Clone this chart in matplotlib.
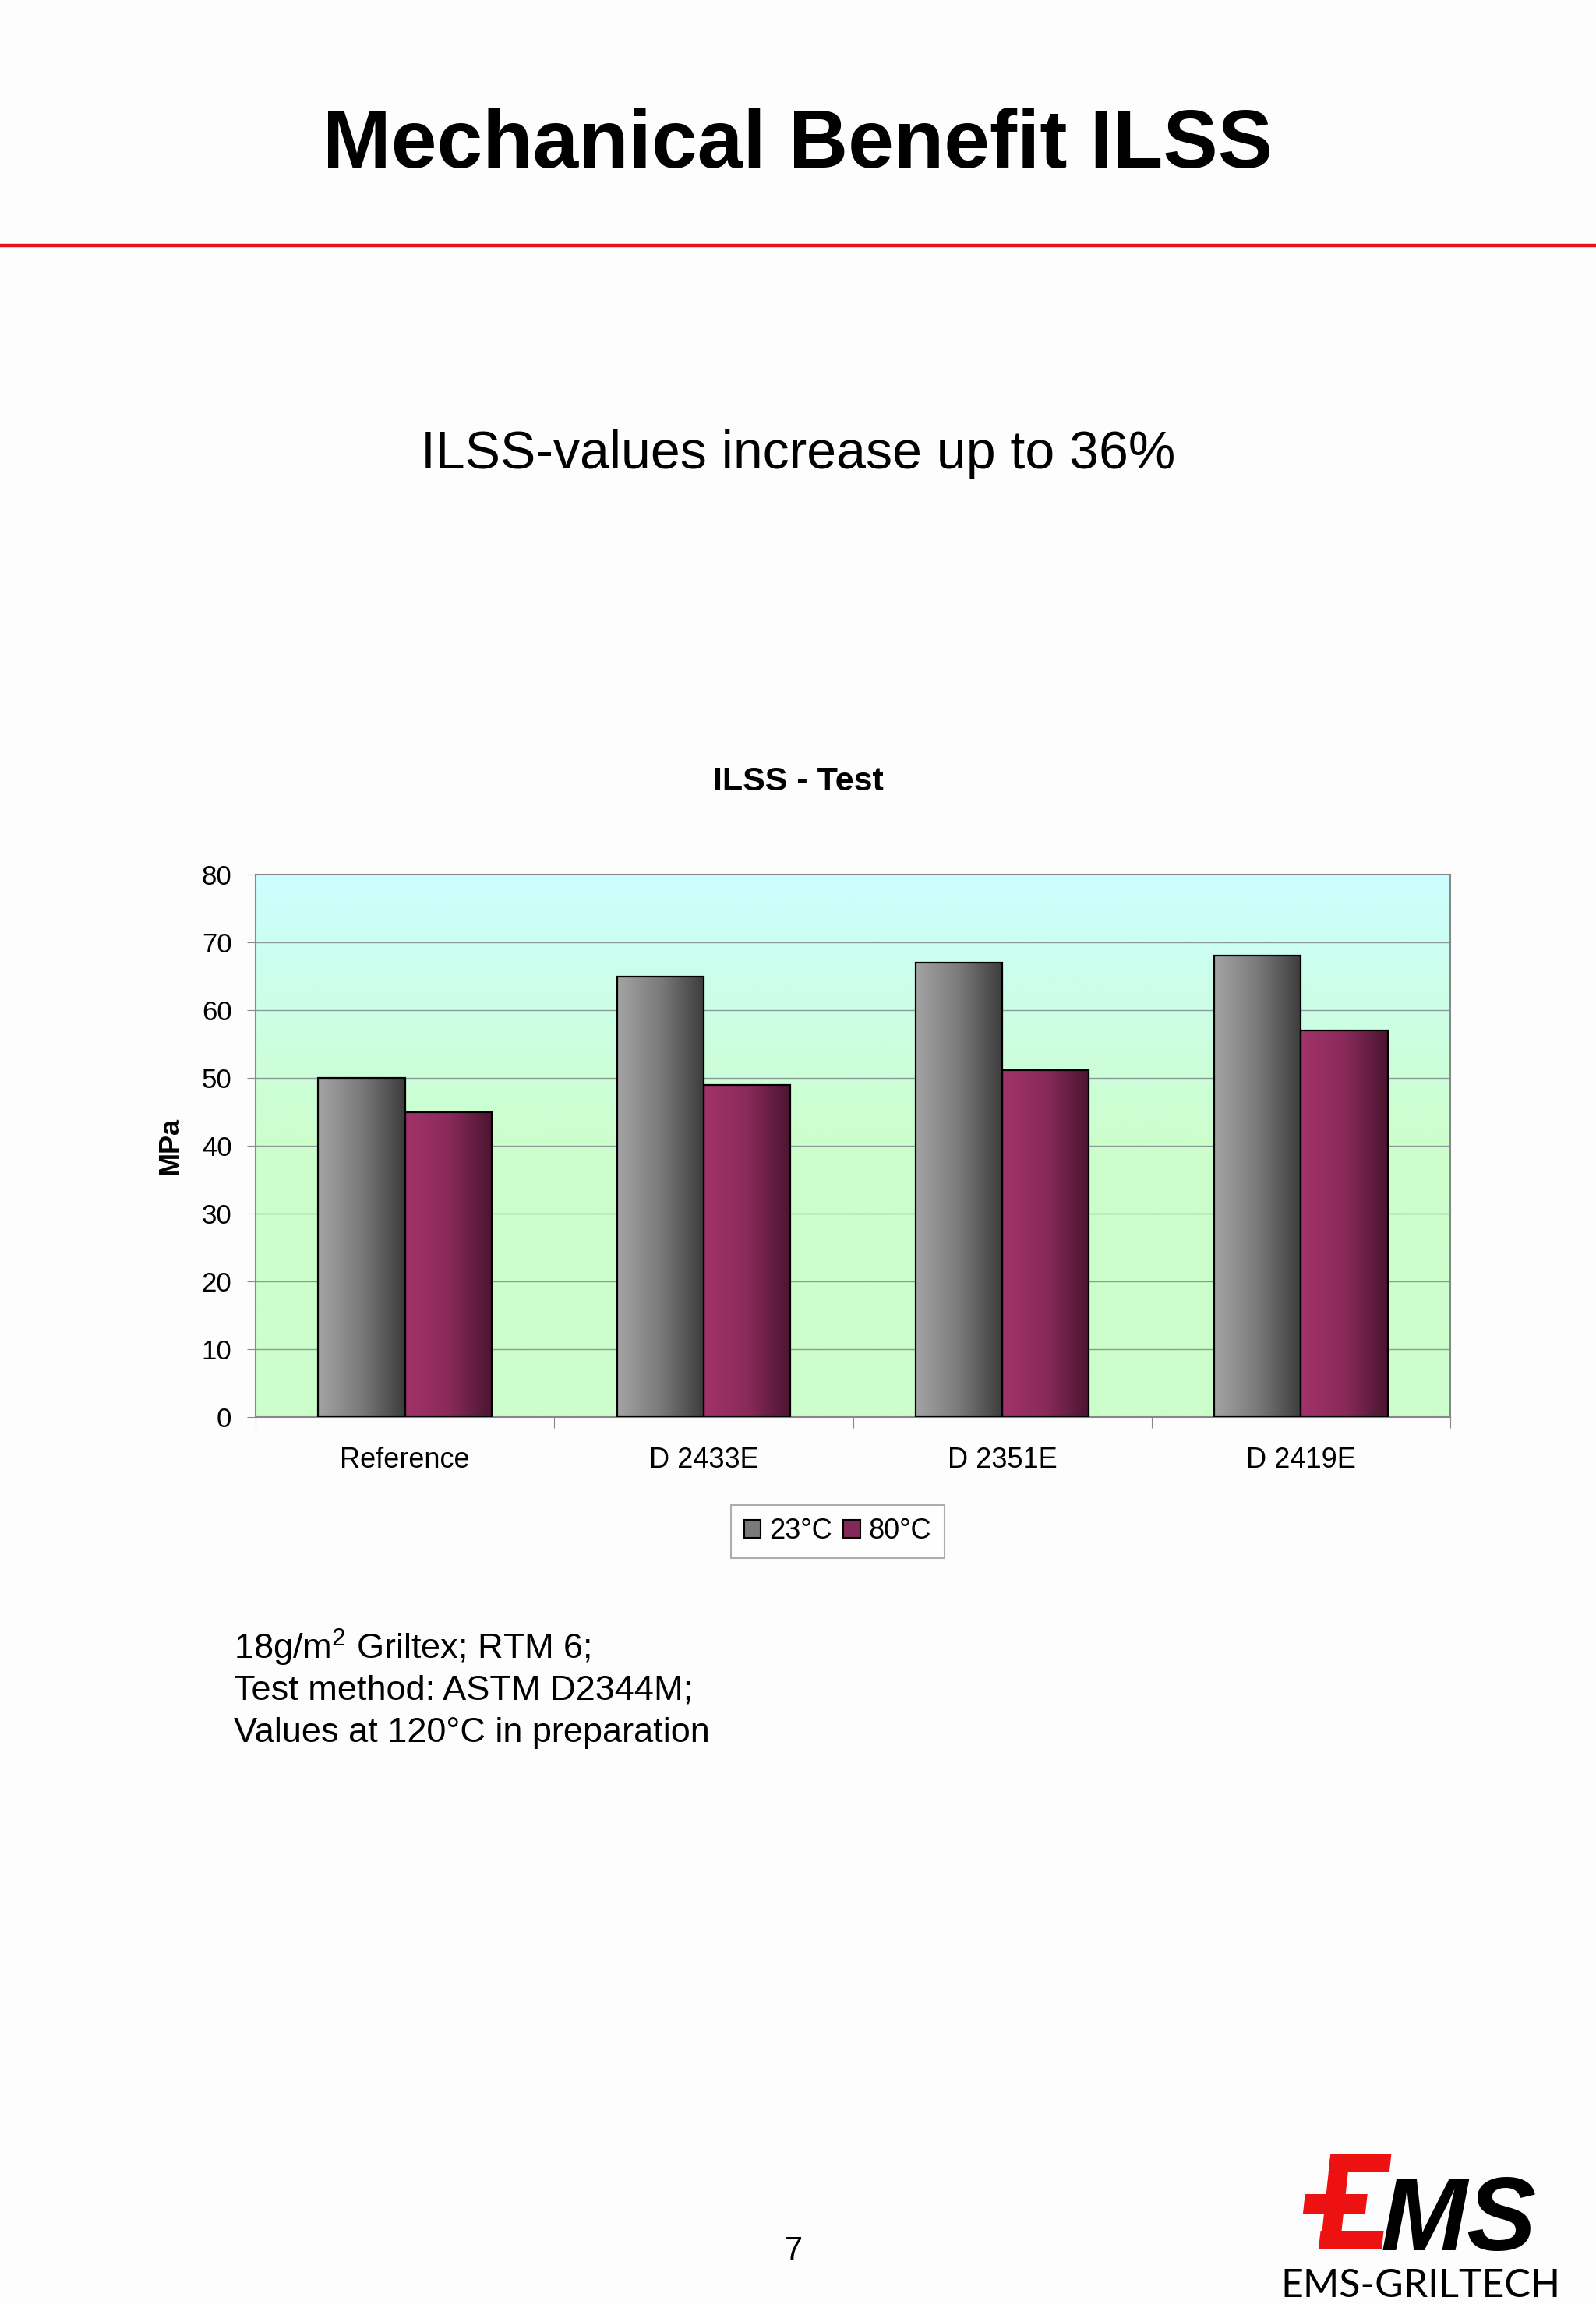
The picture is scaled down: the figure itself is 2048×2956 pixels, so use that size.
import numpy as np
import matplotlib
matplotlib.use('Agg')
import matplotlib.pyplot as plt
from matplotlib.colors import LinearSegmentedColormap
from matplotlib.patches import Patch, Polygon

plt.rcParams['font.family'] = ['Liberation Sans', 'DejaVu Sans']

# Data
categories = ['Reference', 'D 2433E', 'D 2351E', 'D 2419E']
series_names = ['23°C', '80°C']
ilss_23 = [50, 65, 67, 68]
ilss_80 = [45, 49, 51.2, 57]
y_ticks = [0, 10, 20, 30, 40, 50, 60, 70, 80]

W, H = 2048, 2956
fig = plt.figure(figsize=(W / 100, H / 100), dpi=100)
fig.patch.set_facecolor('#fdfdfd')

# Header
fig.text(0.5, 1 - 188 / H, 'Mechanical Benefit ILSS', ha='center', va='center',
         fontsize=76, fontweight='bold')
fig.add_artist(plt.Line2D([0, 1], [1 - 315 / H] * 2, color='#e8101a', linewidth=3.2))
fig.text(0.5, 1 - 583 / H, 'ILSS-values increase up to 36%', ha='center', va='center',
         fontsize=49)

# Chart
ax = fig.add_axes([328 / W, 1 - 1818 / H, (1861 - 328) / W, (1818 - 1122) / H])
ax.set_xlim(-0.5, len(categories) - 0.5)
ax.set_ylim(0, 80)

# background gradient cyan -> light green
bg = LinearSegmentedColormap.from_list('bg', ['#ccfecc', '#ccfecc', '#ccffff'])
ax.imshow(np.linspace(0, 1, 256).reshape(-1, 1), cmap=bg, aspect='auto',
          extent=[-0.5, len(categories) - 0.5, 0, 80], origin='lower', zorder=0)

for y in y_ticks[1:-1]:
    ax.axhline(y, color='#8a9a9a', linewidth=1.0, zorder=1)

gray_cm = LinearSegmentedColormap.from_list('g', ['#a4a4a4', '#7a7a7a', '#3c3c3c'])
red_cm = LinearSegmentedColormap.from_list('r', ['#a2336a', '#8a2a5a', '#4a1530'])

bw = 0.29
x = np.arange(len(categories))
grad = np.linspace(0, 1, 256).reshape(1, -1)
for vals, off, cm in [(ilss_23, -bw / 2, gray_cm), (ilss_80, bw / 2, red_cm)]:
    bars = ax.bar(x + off, vals, width=bw, facecolor='none', edgecolor='black',
                  linewidth=1.6, zorder=3)
    for b in bars:
        ax.imshow(grad, cmap=cm, aspect='auto', zorder=2,
                  extent=[b.get_x(), b.get_x() + b.get_width(), 0, b.get_height()])

ax.set_xlim(-0.5, len(categories) - 0.5)
ax.set_ylim(0, 80)
ax.set_yticks(y_ticks)
ax.set_yticklabels([str(v) for v in y_ticks], fontsize=25)
ax.set_xticks(np.arange(-0.5, len(categories), 1.0))
ax.set_xticklabels([])
ax.set_xticks(x, minor=True)
ax.set_xticklabels(categories, minor=True, fontsize=26)
ax.tick_params(axis='x', which='minor', length=0, pad=27)
ax.tick_params(axis='x', which='major', length=10, color='#888888')
ax.tick_params(axis='y', length=8, color='#888888', pad=14)
for s in ax.spines.values():
    s.set_color('#888888')
    s.set_linewidth(1.5)
ax.set_ylabel('MPa', fontsize=26, fontweight='bold', labelpad=16)
fig.text(1024 / W, 1 - 1003 / H, 'ILSS - Test', fontsize=31, fontweight='bold',
         ha='center', va='center')

handles = [Patch(facecolor='#7a7a7a', edgecolor='black', linewidth=1.5),
           Patch(facecolor='#832858', edgecolor='black', linewidth=1.5)]
leg = fig.legend(handles, series_names, loc='center', ncol=2, fontsize=26,
                 bbox_to_anchor=(1075 / W, 1 - 1965 / H), frameon=True, fancybox=False,
                 handlelength=0.6, handleheight=0.6, handletextpad=0.3, columnspacing=0.4,
                 borderpad=0.45, edgecolor='#999999')
leg.get_frame().set_linewidth(1.5)

# Footnote
fig.text(300 / W, 1 - 2114 / H, r'18g/m$^{\mathregular{2}}$ Griltex; RTM 6;', fontsize=32.5, va='center')
fig.text(300 / W, 1 - 2169 / H, 'Test method: ASTM D2344M;', fontsize=32.5, va='center')
fig.text(300 / W, 1 - 2224 / H, 'Values at 120°C in preparation', fontsize=32.5, va='center')

# Page number
fig.text(1018 / W, 1 - 2888 / H, '7', fontsize=30, ha='center', va='center')

# Logo (drawn in page pixel coordinates)
lg = fig.add_axes([0, 0, 1, 1], zorder=5)
lg.set_xlim(0, W)
lg.set_ylim(H, 0)
lg.axis('off')
k, y0 = 0.11, 2885


def skew(pts):
    return [(px + k * (y0 - py), py) for px, py in pts]


red = '#ee1111'
for rect in [(1694, 1772, 2764, 2787), (1692, 1773, 2862, 2885),
             (1667, 1747, 2815, 2840), (1694, 1719, 2764, 2885)]:
    xa, xb, ya, yb = rect
    lg.add_patch(Polygon(skew([(xa, ya), (xb, ya), (xb, yb), (xa, yb)]),
                         closed=True, facecolor=red, edgecolor='none'))
lg.text(1772, 2887, 'MS', fontsize=96, fontweight='heavy', style='italic',
        ha='left', va='baseline', color='black')
lg.text(1823, 2947, 'EMS-GRILTECH', fontsize=36, ha='center', va='baseline',
        color='#000000', family=['Lato', 'Liberation Sans'], fontweight='normal')

fig.savefig('out.png', dpi=100, facecolor=fig.get_facecolor())
